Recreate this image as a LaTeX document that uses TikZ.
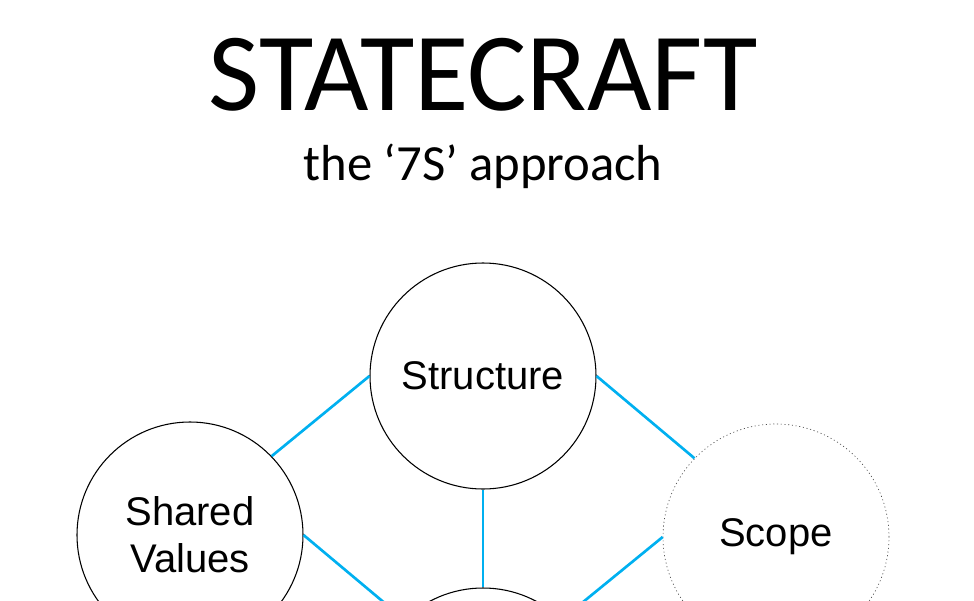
\documentclass[tikz,border=0pt]{standalone}
\usepackage{fontspec}
\setmainfont{Carlito}
\newfontfamily\labelfont{Liberation Sans}
\definecolor{linkblue}{RGB}{0,176,240}
\begin{document}
\begin{tikzpicture}[x=0.75pt,y=-0.75pt,
    sphere/.style ={circle, draw, line width=0.8pt, inner sep=0pt, minimum size=169.5pt,
      align=center, font=\labelfont\fontsize{30}{35}\selectfont},
    link/.style ={linkblue, line width=2pt}]
   \useasboundingbox (0,0) rectangle (974,600);
   \node (title) at (483,75) {\fontsize{83.5}{90}\selectfont STATECRAFT};
   \node (sub) at (483,166) {\fontsize{38}{44}\selectfont the ‘7S’ approach};

   \node[sphere] (structure) at (483,376) {Structure};
   \node[sphere] (shared) at (190,535) {Shared\\Values};
   \node[sphere, draw=black!70, dotted, line width=0.5pt] (scope) at (776,537) {Scope};
   \node[sphere] (bottom) at (483,701) {};

   \draw[link] (structure.west) -- (shared.44);
   \draw[link] (structure.east) -- (scope.136);
   \draw[link] (structure.south) -- (bottom.north);
   \draw[link] (shared.east) -- (bottom.134);
   \draw[link] (scope.west) -- (bottom.46);
 \end{tikzpicture}
\end{document}
